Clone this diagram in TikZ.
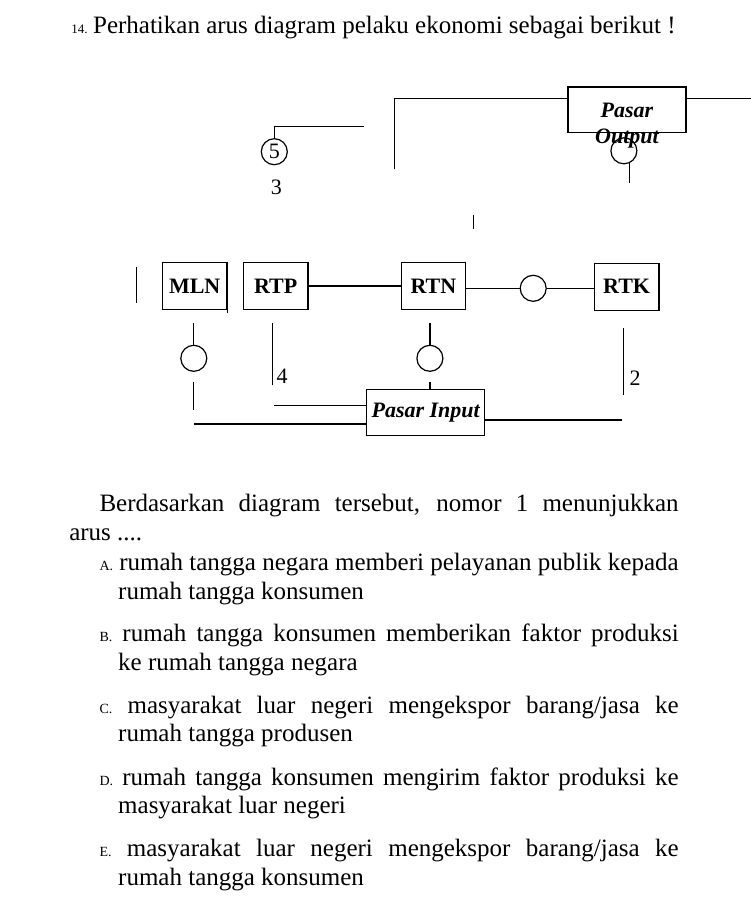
\documentclass[tikz,border=0pt]{standalone}
\usepackage{fontspec}
\setmainfont{LiberationSerif}[Extension=.ttf,UprightFont=*-Regular,BoldFont=*-Bold,ItalicFont=*-Italic,BoldItalicFont=*-BoldItalic]

\newcommand\opt[2]{\parbox[t]{289.6pt}{\hangindent=9.35pt\hangafter=1{\fontsize{7}{8}\selectfont #1.}\ #2}}

\begin{document}
\begin{tikzpicture}[x=0.5pt,y=-0.5pt,line width=0.6pt,
    box/.style={draw,minimum width=32.3pt,minimum height=23.5pt,inner sep=0pt,font=\fontsize{11}{13}\selectfont\bfseries},
    pasar/.style={draw,minimum width=59pt,minimum height=22.8pt,inner sep=0pt,font=\fontsize{11}{13}\selectfont\bfseries\itshape},
    knot/.style={draw,circle,minimum size=13pt,inner sep=0pt,font=\fontsize{11}{13}\selectfont},
    num/.style={inner sep=0pt,font=\fontsize{11}{13}\selectfont},
    txt/.style={inner sep=0pt,anchor=base west,font=\fontsize{12.5}{14.25}\selectfont}]
\useasboundingbox (0,0) rectangle (751,918);

% soal
\node[inner sep=0pt,anchor=base west,font=\fontsize{6.5}{8}\selectfont] (no) at (70.7,33.3) {14.};
\node[txt] (title) at (92.5,33.3) {Perhatikan arus diagram pelaku ekonomi sebagai berikut !};

% pelaku ekonomi
\node[box] (mln) at (194.7,286) {MLN};
\node[box] (rtp) at (275.7,286) {RTP};
\node[box] (rtn) at (433.4,286) {RTN};
\node[box] (rtk) at (626.6,286.7) {RTK};
\node[pasar] (pout) at (627,109.7) {};
\node[pasar] (pin) at (425.7,412.5) {Pasar Input};

\node[knot] (c5) at (274.3,151.7) {5};
\node[knot] (cout) at (623.9,150.8) {};
\node[knot] (cmid) at (533.2,288.3) {};
\node[knot] (cmln) at (193.8,358.3) {};
\node[knot] (crtn) at (429.9,358.3) {};

\node[num,anchor=base,font=\fontsize{11}{13}\selectfont\bfseries\itshape] (poutA) at (627,117.3) {Pasar};
\node[num,anchor=base,font=\fontsize{11}{13}\selectfont\bfseries\itshape] (poutB) at (627,143.3) {Output};
\node[num] (n3) at (276.4,187.3) {3};
\node[num] (n4) at (282,376.7) {4};
\node[num] (n2) at (635,378.3) {2};

% arus atas
\coordinate (topL) at (394.7,169.3);
\coordinate (topC) at (394.7,98.3);
\coordinate (topR) at (751,98.3);
\draw (topL) -- (topC) -- (topC -| pout.west);
\draw (pout.east |- topC) -- (topR);
\coordinate (c5end) at (364,126.7);
\draw (c5.north) |- (c5end);
\coordinate (coutA) at (629.3,163.3);
\coordinate (coutB) at (629.3,183.3);
\draw (coutA) -- (coutB);
\coordinate (tickA) at (473.6,215);
\coordinate (tickB) at (473.6,229.3);
\draw (tickA) -- (tickB);
\coordinate (leftA) at (136.4,266.7);
\coordinate (leftB) at (136.4,302.7);
\draw (leftA) -- (leftB);

% arus tengah
\draw (rtp.east) -- (rtn.west);
\draw (cmid -| rtn.east) -- (cmid) -- (cmid -| rtk.west);
\draw (mln.south east) -- ++(0,3);

% arus bawah
\coordinate (mlnA) at (193.8,323.3);
\coordinate (mlnB) at (193.8,381.7);
\coordinate (mlnC) at (193.8,410);
\coordinate (mlnD) at (193.8,424);
\draw (mlnA) -- (cmln);
\draw (mlnB) -- (mlnC);
\draw (mlnD) -- (mlnD -| pin.west);
\coordinate (rtpA) at (272.2,323.3);
\coordinate (rtpB) at (272.2,385);
\coordinate (rtpC) at (274,405.7);
\draw (rtpA) -- (rtpB);
\draw (rtpC) -- (rtpC -| pin.west);
\coordinate (rtnA) at (429.9,323.3);
\coordinate (rtnB) at (429.9,381.7);
\draw (rtnA) -- (crtn);
\draw (rtnB) -- (rtnB |- pin.north);
\coordinate (pinR) at (622.4,420);
\draw (pinR -| pin.east) -- (pinR);
\coordinate (rtkA) at (623.1,328.3);
\coordinate (rtkB) at (623.1,395);
\draw (rtkA) -- (rtkB);

% pertanyaan dan pilihan
\node[txt] (q) at (68.7,511.7) {\parbox[t]{304.65pt}{\hspace*{15.1pt}Berdasarkan diagram tersebut, nomor 1 menunjukkan\linebreak arus ....}};
\node[txt] (oa) at (98.9,570.7) {\opt{A}{rumah tangga negara memberi pelayanan publik kepada\linebreak rumah tangga konsumen}};
\node[txt] (ob) at (98.9,641.7) {\opt{B}{rumah tangga konsumen memberikan faktor produksi\linebreak ke rumah tangga negara}};
\node[txt] (oc) at (98.9,713.3) {\opt{C}{masyarakat luar negeri mengekspor barang/jasa ke\linebreak rumah tangga produsen}};
\node[txt] (od) at (98.9,785) {\opt{D}{rumah tangga konsumen mengirim faktor produksi ke\linebreak masyarakat luar negeri}};
\node[txt] (oe) at (98.9,856.7) {\opt{E}{masyarakat luar negeri mengekspor barang/jasa ke\linebreak rumah tangga konsumen}};
\end{tikzpicture}
\end{document}
